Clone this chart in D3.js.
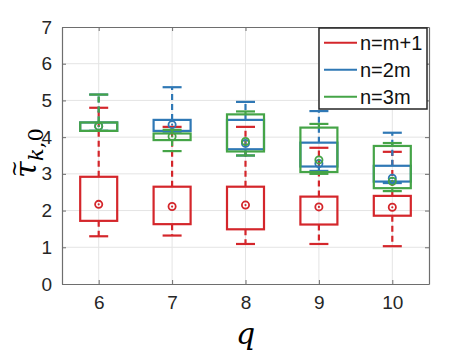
<!DOCTYPE html>
<html>
<head>
<meta charset="utf-8">
<script src="https://cdn.jsdelivr.net/npm/d3@7"></script>
<style>
  body { margin: 0; background: #fff; }
  text { font-family: "Liberation Sans", Arial, sans-serif; }
</style>
</head>
<body>
<div id="chart"></div>
<script>
// categories
var qValues = [6, 7, 8, 9, 10]
var yTicks = [0, 1, 2, 3, 4, 5, 6, 7]
var seriesNames = ["n=m+1", "n=2m", "n=3m"]

// box stats per q: [lower whisker, q1, median, q3, upper whisker]
var statsM1 = [
  [1.30, 1.72, 2.17, 2.92, 4.80],
  [1.32, 1.63, 2.11, 2.65, 4.28],
  [1.09, 1.49, 2.15, 2.65, 4.28],
  [1.09, 1.62, 2.10, 2.38, 3.71],
  [1.03, 1.86, 2.09, 2.40, 3.60]
]
var stats2M = [
  [4.17, 4.17, 4.30, 4.40, 5.16],
  [4.15, 4.17, 4.34, 4.47, 5.36],
  [3.50, 3.67, 3.83, 4.47, 4.96],
  [3.08, 3.20, 3.28, 3.85, 4.71],
  [2.75, 2.79, 2.88, 3.22, 4.12]
]
var stats3M = [
  [4.17, 4.17, 4.30, 4.40, 5.16],
  [3.62, 3.92, 4.02, 4.10, 4.20],
  [3.50, 3.61, 3.88, 4.62, 4.70],
  [3.00, 3.05, 3.38, 4.26, 4.36],
  [2.53, 2.61, 2.80, 3.76, 3.84]
]

var colors = ["#d4262b", "#2f78b5", "#45a447"]
var allStats = [statsM1, stats2M, stats3M]

function draw_boxes () {

var W = 474, H = 355
var pLeft = 62, pRight = 429, pTop = 27, pBottom = 284

var svg = d3.select("#chart")
  .append("svg")
    .attr("width", W)
    .attr("height", H)

var x = d3.scaleLinear().domain([5.5, 10.5]).range([pLeft, pRight])
var y = d3.scaleLinear().domain([0, 7]).range([pBottom, pTop])

// grid
svg.append("g").selectAll("line")
  .data(yTicks.slice(1, -1))
  .enter().append("line")
    .attr("x1", pLeft).attr("x2", pRight)
    .attr("y1", function(d) { return y(d) }).attr("y2", function(d) { return y(d) })
    .attr("stroke", "#e4e4e4").attr("stroke-width", 1)
svg.append("g").selectAll("line")
  .data(qValues)
  .enter().append("line")
    .attr("x1", function(d) { return x(d) }).attr("x2", function(d) { return x(d) })
    .attr("y1", pTop).attr("y2", pBottom)
    .attr("stroke", "#e4e4e4").attr("stroke-width", 1)

// axes (box on, ticks inside)
var axisColor = "#6e6e6e"
var fmt = d3.format("d")
svg.append("g")
  .attr("transform", "translate(0," + pBottom + ")")
  .call(d3.axisBottom(x).tickValues(qValues).tickFormat(fmt).tickSizeInner(-4).tickSizeOuter(0).tickPadding(12))
svg.append("g")
  .attr("transform", "translate(0," + pTop + ")")
  .call(d3.axisTop(x).tickValues(qValues).tickFormat("").tickSizeInner(-4).tickSizeOuter(0))
svg.append("g")
  .attr("transform", "translate(" + pLeft + ",0)")
  .call(d3.axisLeft(y).tickValues(yTicks).tickFormat(fmt).tickSizeInner(-4).tickSizeOuter(0).tickPadding(10))
svg.append("g")
  .attr("transform", "translate(" + pRight + ",0)")
  .call(d3.axisRight(y).tickValues(yTicks).tickFormat("").tickSizeInner(-4).tickSizeOuter(0))

svg.selectAll(".domain").attr("stroke", axisColor).attr("stroke-width", 1.2)
svg.selectAll(".tick line").attr("stroke", axisColor)
svg.selectAll(".tick text")
  .attr("fill", "#262626")
  .style("font-size", "19px")
  .style("font-family", "'Liberation Sans', Arial, sans-serif")

// boxes
var boxW = 37, capW = 19
allStats.forEach(function(stats, si) {
  var col = colors[si]
  var groups = svg.append("g").selectAll("g")
    .data(stats)
    .enter().append("g")
      .attr("transform", function(d, i) { return "translate(" + x(qValues[i]) + ",0)" })

  // dashed whiskers
  groups.append("line")
    .attr("x1", 0).attr("x2", 0)
    .attr("y1", function(d) { return y(d[3]) }).attr("y2", function(d) { return y(d[4]) })
    .attr("stroke", col).attr("stroke-width", 2.2).attr("stroke-dasharray", "6,4")
  groups.append("line")
    .attr("x1", 0).attr("x2", 0)
    .attr("y1", function(d) { return y(d[1]) }).attr("y2", function(d) { return y(d[0]) })
    .attr("stroke", col).attr("stroke-width", 2.2).attr("stroke-dasharray", "6,4")
  // caps
  groups.append("line")
    .attr("x1", -capW / 2).attr("x2", capW / 2)
    .attr("y1", function(d) { return y(d[4]) }).attr("y2", function(d) { return y(d[4]) })
    .attr("stroke", col).attr("stroke-width", 2.2)
  groups.append("line")
    .attr("x1", -capW / 2).attr("x2", capW / 2)
    .attr("y1", function(d) { return y(d[0]) }).attr("y2", function(d) { return y(d[0]) })
    .attr("stroke", col).attr("stroke-width", 2.2)
  // box
  groups.append("rect")
    .attr("x", -boxW / 2).attr("width", boxW)
    .attr("y", function(d) { return y(d[3]) })
    .attr("height", function(d) { return y(d[1]) - y(d[3]) })
    .attr("fill", "none").attr("stroke", col).attr("stroke-width", 2.2)
  // median target
  groups.append("circle")
    .attr("cx", 0).attr("cy", function(d) { return y(d[2]) })
    .attr("r", 3.6)
    .attr("fill", "none").attr("stroke", col).attr("stroke-width", 1.8)
  groups.append("circle")
    .attr("cx", 0).attr("cy", function(d) { return y(d[2]) })
    .attr("r", 1.1)
    .attr("fill", col)
})

// legend
var leg = svg.append("g")
leg.append("rect")
  .attr("x", 319).attr("y", 28).attr("width", 108).attr("height", 81)
  .attr("fill", "#fff").attr("stroke", "#262626").attr("stroke-width", 1.5)
var legRows = leg.selectAll("g")
  .data(seriesNames)
  .enter().append("g")
    .attr("transform", function(d, i) { return "translate(0," + (42.7 + i * 27) + ")" })
legRows.append("line")
  .attr("x1", 324).attr("x2", 357).attr("y1", 0).attr("y2", 0)
  .attr("stroke", function(d, i) { return colors[i] }).attr("stroke-width", 2)
legRows.append("text")
  .attr("x", 360).attr("y", 7)
  .style("font-size", "20px")
  .attr("fill", "#111")
  .text(function(d) { return d })

// x label
svg.append("text")
  .attr("x", (pLeft + pRight) / 2).attr("y", 344)
  .attr("text-anchor", "middle")
  .style("font-family", "'DejaVu Serif', 'Liberation Serif', serif")
  .style("font-style", "italic")
  .style("font-size", "30px")
  .text("q")

// y label: tau tilde with subscript k,0
var yl = svg.append("g").attr("transform", "translate(36,178) rotate(-90)")
yl.append("text")
  .attr("x", 0).attr("y", 0)
  .style("font-family", "'DejaVu Serif', 'Liberation Serif', serif")
  .style("font-style", "italic")
  .style("font-size", "30px")
  .text("τ")
yl.append("text")
  .attr("x", 1).attr("y", -15)
  .style("font-family", "'DejaVu Serif', 'Liberation Serif', serif")
  .style("font-size", "20px")
  .text("~")
var sub = yl.append("text")
  .attr("x", 17).attr("y", 7)
  .style("font-family", "'DejaVu Serif', 'Liberation Serif', serif")
  .style("font-size", "21px")
sub.append("tspan").style("font-style", "italic").text("k")
sub.append("tspan").text(",0")
}

draw_boxes()
</script>
</body>
</html>
